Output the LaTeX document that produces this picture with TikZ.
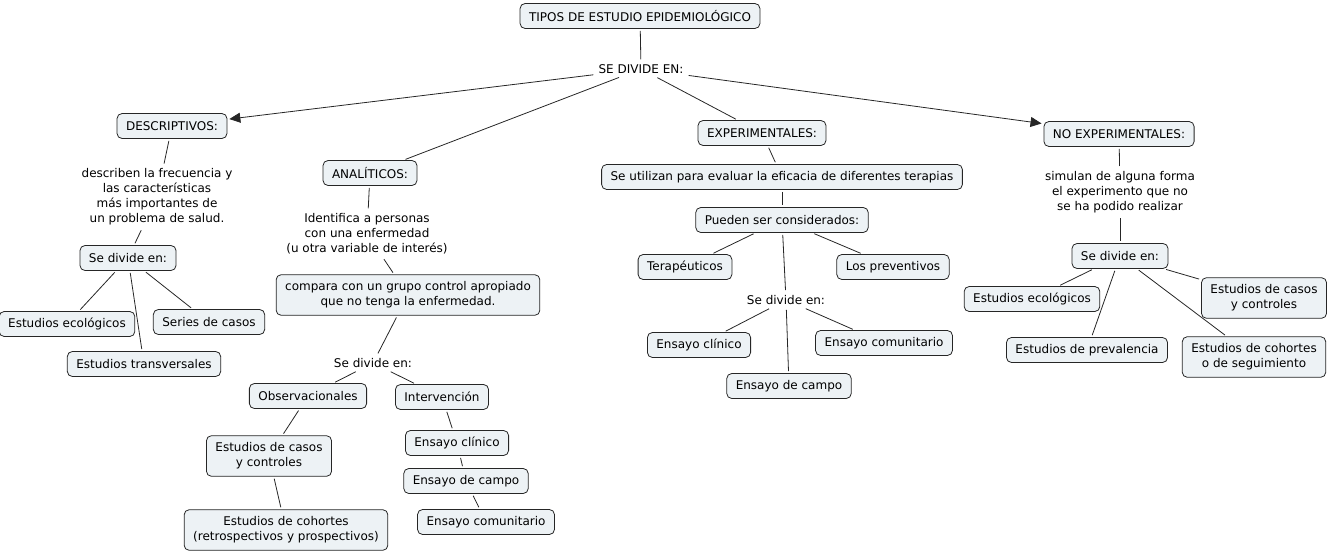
\documentclass[tikz,border=0pt]{standalone}
\usepackage{fontspec}
\setmainfont{DejaVu Sans}
\usetikzlibrary{arrows.meta}
\definecolor{cmapfill}{HTML}{EDF2F5}
\tikzset{
  concept/.style={draw=black!85, line width=0.8pt, fill=cmapfill, rounded corners=5pt,
    inner xsep=9pt, inner ysep=4pt, minimum height=25pt, align=center,
    font=\fontsize{12}{15}\selectfont},
  concepttwo/.style={concept, inner ysep=7pt},
  phrase/.style={inner sep=3pt, align=center, font=\fontsize{12}{15}\selectfont},
  link/.style={draw=black!85, line width=0.8pt, shorten <=2pt, shorten >=2pt},
  linkarrow/.style={link, -{Triangle[length=11pt,width=10pt]}}
}
\begin{document}
\begin{tikzpicture}
    [x=1pt,y=-1pt]
    \useasboundingbox (0,0) rectangle (1329,554);
    %top
    \node[concept] (tipos) at (640,16) {TIPOS DE ESTUDIO EPIDEMIOLÓGICO};
    \node[phrase] (divide) at (641,69) {SE DIVIDE EN:};
    \node[concept] (descr) at (172,126) {DESCRIPTIVOS:};
    \node[concept] (analit) at (370,173) {ANALÍTICOS:};
    \node[concept] (exper) at (762,133) {EXPERIMENTALES:};
    \node[concept] (noexp) at (1119,134) {NO EXPERIMENTALES:};
    \draw[link] (tipos) -- (divide);
    \draw[linkarrow] (divide) -- (descr);
    \draw[link] (divide) -- (analit);
    \draw[link] (divide) -- (exper);
    \draw[linkarrow] (divide) -- (noexp);
    %descriptivos
    \node[phrase] (descrtxt) at (157,197) {describen la frecuencia y\\las características\\más importantes de\\un problema de salud.};
    \node[concept] (divA) at (128,258) {Se divide en:};
    \node[concept] (ecolA) at (67,324) {Estudios ecológicos};
    \node[concept] (seriesA) at (209,322) {Series de casos};
    \node[concept] (transvA) at (144,364) {Estudios transversales};
    \draw[link] (descr) -- (descrtxt);
    \draw[link] (descrtxt) -- (divA);
    \draw[link] (divA) -- (ecolA);
    \draw[link] (divA) -- (transvA);
    \draw[link] (divA) -- (seriesA);
    %analiticos
    \node[phrase] (identtxt) at (367,234) {Identifica a personas\\con una enfermedad\\(u otra variable de interés)};
    \node[concepttwo] (compara) at (408,295) {compara con un grupo control apropiado\\que no tenga la enfermedad.};
    \node[phrase] (divB) at (373,363) {Se divide en:};
    \node[concept] (observ) at (308,396) {Observacionales};
    \node[concept] (interv) at (442,397) {Intervención};
    \node[concepttwo] (casosB) at (269,456) {Estudios de casos\\y controles};
    \node[concepttwo] (cohortB) at (286,530) {Estudios de cohortes\\(retrospectivos y prospectivos)};
    \node[concept] (clinB) at (457,443) {Ensayo clínico};
    \node[concept] (campoB) at (466,481) {Ensayo de campo};
    \node[concept] (comunB) at (486,522) {Ensayo comunitario};
    \draw[link] (analit) -- (identtxt);
    \draw[link] (identtxt) -- (compara);
    \draw[link] (compara) -- (divB);
    \draw[link] (divB) -- (observ);
    \draw[link] (divB) -- (interv);
    \draw[link] (observ) -- (casosB);
    \draw[link] (casosB) -- (cohortB);
    \draw[link] (interv) -- (clinB);
    \draw[link] (clinB) -- (campoB);
    \draw[link] (campoB) -- (comunB);
    %experimentales
    \node[concept] (utilizan) at (782,177) {Se utilizan para evaluar la eficacia de diferentes terapias};
    \node[concept] (pueden) at (782,220) {Pueden ser considerados:};
    \node[concept] (terap) at (685,267) {Terapéuticos};
    \node[concept] (prevent) at (893,267) {Los preventivos};
    \node[phrase] (divC) at (786,300) {Se divide en:};
    \node[concept] (clinC) at (699,345) {Ensayo clínico};
    \node[concept] (comunC) at (884,343) {Ensayo comunitario};
    \node[concept] (campoC) at (789,386) {Ensayo de campo};
    \draw[link] (exper) -- (utilizan);
    \draw[link] (utilizan) -- (pueden);
    \draw[link] (pueden) -- (terap);
    \draw[link] (pueden) -- (prevent);
    \draw[link] (pueden) -- (divC);
    \draw[link] (divC) -- (clinC);
    \draw[link] (divC) -- (comunC);
    \draw[link] (divC) -- (campoC);
    %no experimentales
    \node[phrase] (simultxt) at (1120,192) {simulan de alguna forma\\el experimento que no\\se ha podido realizar};
    \node[concept] (divD) at (1120,256) {Se divide en:};
    \node[concept] (ecolD) at (1032,299) {Estudios ecológicos};
    \node[concepttwo] (casosD) at (1264,298) {Estudios de casos\\y controles};
    \node[concept] (prevalD) at (1087,350) {Estudios de prevalencia};
    \node[concepttwo] (cohortD) at (1254,357) {Estudios de cohortes\\o de seguimiento};
    \draw[link] (noexp) -- (simultxt);
    \draw[link] (simultxt) -- (divD);
    \draw[link] (divD) -- (ecolD);
    \draw[link] (divD) -- (prevalD);
    \draw[link] (divD) -- (cohortD);
    \draw[link] (divD) -- (casosD);
\end{tikzpicture}
\end{document}
